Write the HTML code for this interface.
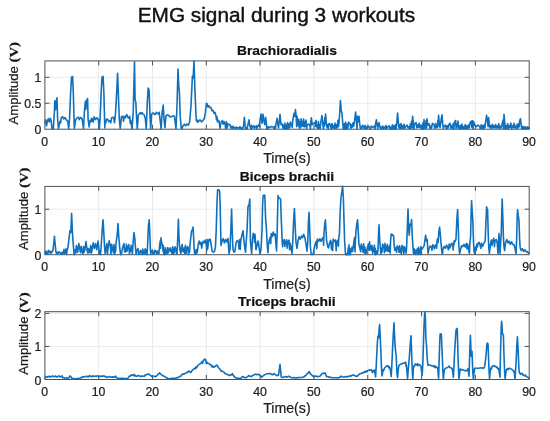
<!DOCTYPE html>
<html lang="en"><head><meta charset="utf-8"><title>EMG signal during 3 workouts</title>
<style>
html,body{margin:0;padding:0;background:#fff;}
body{width:550px;height:421px;overflow:hidden;}
svg{display:block;}
.sans{font-family:"Liberation Sans",sans-serif;}
.serif{font-family:"Liberation Serif",serif;}
</style></head><body>
<svg width="550" height="421" viewBox="0 0 550 421">
<rect width="550" height="421" fill="#ffffff"/>
<text transform="translate(276.40,22.40) scale(1.067,1)" font-size="19.5" text-anchor="middle" fill="#111111" class="sans" stroke="#111111" stroke-width="0.4">EMG signal during 3 workouts</text>
<line x1="98.71" y1="60.9" x2="98.71" y2="129.2" stroke="#e9e9e9" stroke-width="0.9"/>
<line x1="152.52" y1="60.9" x2="152.52" y2="129.2" stroke="#e9e9e9" stroke-width="0.9"/>
<line x1="206.33" y1="60.9" x2="206.33" y2="129.2" stroke="#e9e9e9" stroke-width="0.9"/>
<line x1="260.14" y1="60.9" x2="260.14" y2="129.2" stroke="#e9e9e9" stroke-width="0.9"/>
<line x1="313.96" y1="60.9" x2="313.96" y2="129.2" stroke="#e9e9e9" stroke-width="0.9"/>
<line x1="367.77" y1="60.9" x2="367.77" y2="129.2" stroke="#e9e9e9" stroke-width="0.9"/>
<line x1="421.58" y1="60.9" x2="421.58" y2="129.2" stroke="#e9e9e9" stroke-width="0.9"/>
<line x1="475.39" y1="60.9" x2="475.39" y2="129.2" stroke="#e9e9e9" stroke-width="0.9"/>
<line x1="44.9" y1="103.25" x2="529.2" y2="103.25" stroke="#e9e9e9" stroke-width="0.9"/>
<line x1="44.9" y1="77.30" x2="529.2" y2="77.30" stroke="#e9e9e9" stroke-width="0.9"/>
<rect x="44.9" y="60.9" width="484.30000000000007" height="68.29999999999998" fill="none" stroke="#505050" stroke-width="1.0"/>
<text transform="translate(44.75,145.70) scale(1.01,1)" font-size="12.2" text-anchor="middle" fill="#1c1c1c" class="sans" stroke="#1c1c1c" stroke-width="0.22">0</text>
<line x1="98.71" y1="129.2" x2="98.71" y2="124.69999999999999" stroke="#505050" stroke-width="1"/>
<line x1="98.71" y1="60.9" x2="98.71" y2="65.4" stroke="#505050" stroke-width="1"/>
<text transform="translate(98.56,145.70) scale(1.01,1)" font-size="12.2" text-anchor="middle" fill="#1c1c1c" class="sans" stroke="#1c1c1c" stroke-width="0.22">10</text>
<line x1="152.52" y1="129.2" x2="152.52" y2="124.69999999999999" stroke="#505050" stroke-width="1"/>
<line x1="152.52" y1="60.9" x2="152.52" y2="65.4" stroke="#505050" stroke-width="1"/>
<text transform="translate(152.37,145.70) scale(1.01,1)" font-size="12.2" text-anchor="middle" fill="#1c1c1c" class="sans" stroke="#1c1c1c" stroke-width="0.22">20</text>
<line x1="206.33" y1="129.2" x2="206.33" y2="124.69999999999999" stroke="#505050" stroke-width="1"/>
<line x1="206.33" y1="60.9" x2="206.33" y2="65.4" stroke="#505050" stroke-width="1"/>
<text transform="translate(206.18,145.70) scale(1.01,1)" font-size="12.2" text-anchor="middle" fill="#1c1c1c" class="sans" stroke="#1c1c1c" stroke-width="0.22">30</text>
<line x1="260.14" y1="129.2" x2="260.14" y2="124.69999999999999" stroke="#505050" stroke-width="1"/>
<line x1="260.14" y1="60.9" x2="260.14" y2="65.4" stroke="#505050" stroke-width="1"/>
<text transform="translate(259.99,145.70) scale(1.01,1)" font-size="12.2" text-anchor="middle" fill="#1c1c1c" class="sans" stroke="#1c1c1c" stroke-width="0.22">40</text>
<line x1="313.96" y1="129.2" x2="313.96" y2="124.69999999999999" stroke="#505050" stroke-width="1"/>
<line x1="313.96" y1="60.9" x2="313.96" y2="65.4" stroke="#505050" stroke-width="1"/>
<text transform="translate(313.81,145.70) scale(1.01,1)" font-size="12.2" text-anchor="middle" fill="#1c1c1c" class="sans" stroke="#1c1c1c" stroke-width="0.22">50</text>
<line x1="367.77" y1="129.2" x2="367.77" y2="124.69999999999999" stroke="#505050" stroke-width="1"/>
<line x1="367.77" y1="60.9" x2="367.77" y2="65.4" stroke="#505050" stroke-width="1"/>
<text transform="translate(367.62,145.70) scale(1.01,1)" font-size="12.2" text-anchor="middle" fill="#1c1c1c" class="sans" stroke="#1c1c1c" stroke-width="0.22">60</text>
<line x1="421.58" y1="129.2" x2="421.58" y2="124.69999999999999" stroke="#505050" stroke-width="1"/>
<line x1="421.58" y1="60.9" x2="421.58" y2="65.4" stroke="#505050" stroke-width="1"/>
<text transform="translate(421.43,145.70) scale(1.01,1)" font-size="12.2" text-anchor="middle" fill="#1c1c1c" class="sans" stroke="#1c1c1c" stroke-width="0.22">70</text>
<line x1="475.39" y1="129.2" x2="475.39" y2="124.69999999999999" stroke="#505050" stroke-width="1"/>
<line x1="475.39" y1="60.9" x2="475.39" y2="65.4" stroke="#505050" stroke-width="1"/>
<text transform="translate(475.24,145.70) scale(1.01,1)" font-size="12.2" text-anchor="middle" fill="#1c1c1c" class="sans" stroke="#1c1c1c" stroke-width="0.22">80</text>
<text transform="translate(529.05,145.70) scale(1.01,1)" font-size="12.2" text-anchor="middle" fill="#1c1c1c" class="sans" stroke="#1c1c1c" stroke-width="0.22">90</text>
<text transform="translate(41.30,134.20) scale(1.01,1)" font-size="12.2" text-anchor="end" fill="#1c1c1c" class="sans" stroke="#1c1c1c" stroke-width="0.22">0</text>
<line x1="44.9" y1="103.25" x2="49.4" y2="103.25" stroke="#505050" stroke-width="1"/>
<line x1="529.2" y1="103.25" x2="524.7" y2="103.25" stroke="#505050" stroke-width="1"/>
<text transform="translate(41.30,108.25) scale(1.01,1)" font-size="12.2" text-anchor="end" fill="#1c1c1c" class="sans" stroke="#1c1c1c" stroke-width="0.22">0.5</text>
<line x1="44.9" y1="77.30" x2="49.4" y2="77.30" stroke="#505050" stroke-width="1"/>
<line x1="529.2" y1="77.30" x2="524.7" y2="77.30" stroke="#505050" stroke-width="1"/>
<text transform="translate(41.30,82.30) scale(1.01,1)" font-size="12.2" text-anchor="end" fill="#1c1c1c" class="sans" stroke="#1c1c1c" stroke-width="0.22">1</text>
<path d="M45.0,122.7 L45.6,119.8 L46.5,125.8 L47.4,120.8 L48.3,118.7 L49.3,121.9 L50.2,118.2 L51.1,120.4 L52.0,128.5 L53.3,128.6 L54.4,112.0 L54.8,100.9 L55.6,109.8 L56.1,102.4 L57.0,97.9 L57.6,118.5 L58.5,128.6 L60.0,121.3 L60.6,122.9 L61.3,117.6 L62.6,116.7 L63.7,119.0 L65.0,117.5 L66.3,119.9 L67.8,121.3 L68.7,129.0 L69.6,117.4 L70.6,93.2 L71.5,77.1 L72.0,83.5 L72.6,76.6 L73.3,92.7 L74.3,128.5 L75.6,119.8 L77.0,117.9 L78.5,117.1 L79.2,119.7 L79.8,118.4 L81.1,117.5 L82.2,119.5 L83.5,128.7 L84.4,111.8 L85.4,101.2 L85.9,109.3 L86.7,100.3 L87.6,98.6 L88.1,119.2 L89.1,127.0 L90.0,120.6 L90.7,121.8 L91.5,118.3 L92.1,121.4 L92.8,118.9 L93.4,121.9 L94.1,116.8 L95.6,119.5 L97.0,117.8 L98.3,119.4 L99.3,128.9 L100.2,116.9 L101.1,93.4 L102.0,77.0 L102.6,83.7 L103.1,76.3 L103.9,93.2 L104.8,127.9 L105.0,122.1 L105.8,122.9 L106.5,119.0 L107.9,119.5 L108.8,121.7 L109.8,120.7 L110.7,122.8 L111.7,117.7 L113.6,117.3 L114.5,122.6 L115.5,113.4 L116.4,97.6 L117.6,73.2 L118.7,103.9 L119.3,119.1 L120.2,128.4 L121.5,116.6 L123.1,116.3 L123.5,121.3 L124.0,117.6 L125.0,116.4 L125.4,117.9 L125.9,115.8 L126.9,114.7 L127.8,117.1 L128.8,118.1 L129.7,116.3 L130.2,123.1 L130.7,120.3 L132.0,128.8 L133.2,113.1 L133.9,84.9 L134.5,61.8 L135.1,99.6 L135.8,102.0 L136.6,118.5 L137.3,128.6 L138.3,114.8 L139.2,114.0 L140.2,112.7 L141.1,113.9 L142.1,112.6 L143.0,114.1 L144.0,114.6 L145.3,118.6 L146.3,128.6 L147.2,104.0 L148.2,88.1 L149.1,90.4 L149.9,113.1 L150.7,128.7 L151.6,114.5 L152.6,113.0 L153.5,113.1 L154.5,114.4 L155.4,114.4 L156.4,112.3 L157.3,113.2 L158.3,113.8 L159.2,112.3 L160.2,120.5 L161.1,128.7 L162.1,112.7 L163.2,105.1 L164.0,119.0 L164.9,127.7 L165.9,116.1 L167.2,114.8 L168.7,115.2 L170.1,116.9 L171.6,116.7 L173.1,115.7 L174.4,116.2 L176.0,128.7 L177.0,106.1 L178.0,69.1 L178.8,85.9 L179.4,92.1 L180.2,116.1 L181.2,128.0 L182.0,128.8 L183.0,125.8 L184.4,124.2 L185.6,125.9 L187.0,124.0 L188.4,125.2 L189.6,122.0 L191.0,105.8 L192.4,76.2 L193.2,78.0 L194.0,61.1 L194.8,86.4 L196.0,115.8 L196.5,121.3 L197.0,119.8 L197.7,122.2 L198.4,121.4 L200.0,119.9 L201.6,121.8 L203.2,120.1 L204.4,118.3 L205.4,112.4 L206.4,103.3 L207.2,103.9 L208.0,107.1 L209.0,105.8 L210.0,107.7 L211.0,107.6 L212.0,110.7 L213.0,110.3 L214.0,113.2 L215.0,112.4 L216.0,115.8 L216.5,119.6 L217.0,116.8 L217.5,121.9 L218.0,120.1 L219.0,120.8 L220.0,128.3 L221.0,122.4 L222.4,120.6 L223.2,124.3 L224.0,121.6 L225.0,123.7 L225.7,128.6 L226.4,121.9 L227.2,127.9 L228.0,123.9 L230.0,124.7 L230.8,127.9 L231.6,126.5 L232.3,128.7 L233.0,126.2 L234.4,127.9 L235.2,128.5 L236.0,127.0 L237.0,128.4 L238.0,127.6 L239.0,128.5 L240.0,126.6 L241.0,129.0 L242.0,127.6 L242.8,129.0 L243.6,125.9 L244.4,117.3 L245.2,126.4 L245.8,129.1 L246.4,127.4 L247.2,128.7 L248.0,124.1 L249.0,119.9 L249.8,126.5 L250.4,126.8 L251.0,129.1 L251.6,125.2 L252.2,128.2 L252.8,127.0 L254.0,125.7 L254.6,128.3 L255.2,127.4 L256.4,125.9 L257.0,128.9 L257.6,126.2 L259.0,124.4 L259.5,126.8 L260.0,119.9 L261.0,114.1 L262.0,123.3 L263.0,114.4 L264.0,121.5 L264.8,124.6 L265.6,117.3 L266.4,123.7 L266.8,129.0 L267.2,126.8 L267.8,128.7 L268.4,126.6 L270.0,127.6 L271.6,126.4 L273.2,127.0 L274.0,128.8 L274.8,126.2 L275.4,128.7 L276.0,124.0 L277.0,118.3 L278.0,125.1 L278.5,127.9 L279.0,123.3 L280.0,114.4 L281.0,124.7 L282.4,124.1 L283.0,128.4 L283.6,125.3 L284.3,128.3 L285.0,123.1 L285.7,129.1 L286.4,125.0 L287.0,128.8 L287.6,122.5 L288.3,128.5 L289.0,124.0 L289.7,127.8 L290.4,122.1 L291.6,124.8 L292.2,127.4 L292.8,119.9 L294.0,113.3 L294.8,116.4 L295.4,109.6 L296.2,115.8 L296.6,126.7 L297.0,116.4 L297.8,121.6 L298.3,125.7 L298.8,119.3 L299.4,128.1 L300.0,121.8 L300.6,127.8 L301.2,118.8 L301.8,125.9 L302.4,121.6 L303.0,126.2 L303.6,119.0 L304.2,127.0 L304.8,121.9 L305.4,126.2 L306.0,120.1 L306.6,128.4 L307.2,125.0 L308.6,124.1 L310.0,125.7 L310.4,128.9 L310.8,122.4 L311.4,117.8 L312.2,124.8 L313.6,123.3 L315.0,122.4 L315.5,126.5 L316.0,120.2 L316.6,127.0 L317.2,124.7 L317.8,128.7 L318.4,121.6 L319.0,128.5 L319.6,124.5 L320.2,128.5 L320.8,122.4 L322.0,115.5 L322.8,123.6 L323.4,128.6 L324.0,122.0 L324.4,126.3 L324.8,117.6 L325.2,123.8 L325.6,114.1 L326.4,124.0 L327.0,127.4 L327.6,124.7 L328.3,128.9 L329.0,123.5 L330.4,124.6 L331.2,129.1 L332.0,123.6 L332.8,128.0 L333.6,125.6 L334.3,128.2 L335.0,123.1 L335.7,128.5 L336.4,124.7 L337.2,127.9 L338.0,120.2 L338.5,126.7 L339.0,122.7 L339.8,112.0 L340.4,100.5 L341.2,110.4 L342.0,113.3 L342.8,124.2 L343.4,128.8 L343.9,129.0 L344.4,123.7 L345.0,129.2 L345.6,122.3 L346.3,129.0 L347.0,124.2 L347.7,128.7 L348.4,122.3 L349.8,124.0 L350.0,123.4 L350.8,128.7 L351.6,124.9 L352.3,127.2 L353.0,122.8 L353.7,126.1 L354.4,121.9 L355.6,112.1 L356.4,120.1 L357.0,128.9 L357.6,116.2 L358.4,121.8 L359.0,116.2 L359.8,125.1 L360.4,128.2 L361.0,126.5 L361.7,128.7 L362.4,125.3 L363.6,126.5 L364.3,128.9 L365.0,125.4 L365.7,128.3 L366.4,126.9 L367.2,128.3 L368.0,125.8 L369.6,127.5 L370.4,129.2 L371.2,126.1 L372.8,127.3 L374.4,126.0 L375.0,128.9 L375.6,123.5 L376.4,119.7 L377.2,126.0 L377.8,128.4 L378.4,124.1 L379.0,122.6 L379.8,126.3 L380.5,128.8 L381.2,127.1 L382.0,128.9 L382.8,126.1 L383.6,128.9 L384.4,127.0 L385.2,128.4 L386.0,125.5 L386.8,128.9 L387.6,126.9 L389.2,125.8 L390.0,129.2 L390.8,127.2 L391.6,129.1 L392.4,124.7 L393.2,129.2 L394.0,125.7 L394.8,129.1 L395.6,124.6 L396.2,129.1 L396.8,122.3 L397.6,113.1 L398.4,122.6 L399.0,128.1 L399.6,124.7 L400.3,128.2 L401.0,123.6 L401.7,128.6 L402.4,125.6 L403.2,128.4 L404.0,124.3 L404.8,128.4 L405.6,126.5 L407.2,125.2 L408.0,128.0 L408.8,126.8 L409.6,128.7 L410.4,123.9 L411.0,128.4 L411.6,121.1 L412.1,127.7 L412.6,116.3 L413.4,122.7 L413.9,129.2 L414.4,124.8 L416.0,122.5 L416.8,127.7 L417.6,124.9 L418.4,127.3 L419.2,123.2 L420.0,127.4 L420.8,125.4 L421.4,129.0 L422.0,127.9 L422.5,128.7 L423.0,122.8 L423.5,128.7 L424.0,119.6 L424.5,128.7 L425.0,124.1 L425.5,127.2 L426.0,120.9 L426.5,128.4 L427.0,118.9 L427.8,125.2 L429.2,123.8 L430.0,128.7 L430.8,126.0 L431.6,128.1 L432.4,123.2 L434.0,124.8 L434.8,128.3 L435.6,123.6 L436.3,127.7 L437.0,125.3 L437.4,127.5 L437.8,120.2 L438.2,126.0 L438.6,115.2 L439.4,125.2 L440.0,127.4 L440.6,123.9 L441.4,118.2 L442.0,114.9 L442.8,124.6 L443.4,128.5 L444.0,126.4 L445.6,125.2 L446.4,128.9 L447.2,125.8 L448.0,128.2 L448.8,124.8 L450.0,123.3 L450.8,128.2 L451.6,125.9 L452.4,128.2 L453.2,123.7 L453.8,128.7 L454.4,122.4 L455.6,120.5 L456.1,128.6 L456.6,124.4 L457.3,126.7 L458.0,121.0 L458.5,128.3 L459.0,125.5 L459.7,128.9 L460.4,125.6 L461.2,128.9 L462.0,124.0 L462.8,128.8 L463.6,126.8 L464.4,128.7 L465.2,124.6 L466.0,128.6 L466.8,125.7 L467.6,128.8 L468.4,125.0 L469.2,127.9 L470.0,122.8 L471.2,121.2 L471.8,127.3 L472.4,120.6 L473.0,128.9 L473.6,121.5 L474.8,125.2 L476.4,126.7 L478.0,125.2 L479.6,126.5 L480.4,128.8 L481.2,124.7 L482.0,128.3 L482.8,125.6 L483.6,129.2 L484.4,124.9 L485.0,127.5 L485.6,121.9 L486.6,115.4 L487.6,122.5 L488.1,126.7 L488.6,117.6 L489.4,125.1 L490.1,127.9 L490.8,125.6 L491.6,128.5 L492.4,124.4 L493.2,127.8 L494.0,125.7 L494.8,128.0 L495.6,124.6 L496.4,128.0 L497.2,125.7 L498.0,127.9 L498.8,123.9 L499.6,128.5 L500.4,126.3 L501.2,128.0 L502.0,124.4 L503.2,119.8 L503.6,129.0 L504.0,114.4 L504.8,123.7 L505.4,129.1 L506.0,125.9 L506.8,128.3 L507.6,123.6 L508.4,129.2 L509.2,125.8 L510.0,127.4 L510.8,123.0 L511.6,128.8 L512.4,125.8 L513.2,127.7 L514.0,123.3 L514.8,127.9 L515.6,126.0 L516.4,128.5 L517.2,124.1 L518.0,128.0 L518.8,123.7 L519.2,126.6 L519.6,121.3 L520.4,118.7 L521.2,124.6 L521.8,128.9 L522.4,126.6 L523.2,128.6 L524.0,126.5 L524.8,129.1 L525.6,127.2 L526.4,128.7 L527.2,126.8 L528.0,129.1 L528.8,127.3 L529.2,128.4" fill="none" stroke="#0f71be" stroke-width="1.6" stroke-linejoin="round" stroke-linecap="round"/>
<text transform="translate(286.90,163.00) scale(0.99,1)" font-size="14.3" text-anchor="middle" fill="#1c1c1c" class="sans" stroke="#1c1c1c" stroke-width="0.22">Time(s)</text>
<text transform="translate(286.90,55.20) scale(1.065,1)" font-size="13" text-anchor="middle" fill="#111111" class="sans" stroke="#111111" stroke-width="0.22" font-weight="bold">Brachioradialis</text>
<text transform="translate(17.7,124.4) rotate(-90) scale(0.955,1)" font-size="13.7" text-anchor="start" fill="#1c1c1c" stroke="#1c1c1c" stroke-width="0.22" class="sans">Amplitude</text>
<text transform="translate(17.9,62.5) rotate(-90) scale(1.12,1)" font-size="13.2" font-weight="bold" text-anchor="start" fill="#111111" stroke="#111111" stroke-width="0.2" class="serif">(V)</text>
<line x1="98.71" y1="186.4" x2="98.71" y2="254.7" stroke="#e9e9e9" stroke-width="0.9"/>
<line x1="152.52" y1="186.4" x2="152.52" y2="254.7" stroke="#e9e9e9" stroke-width="0.9"/>
<line x1="206.33" y1="186.4" x2="206.33" y2="254.7" stroke="#e9e9e9" stroke-width="0.9"/>
<line x1="260.14" y1="186.4" x2="260.14" y2="254.7" stroke="#e9e9e9" stroke-width="0.9"/>
<line x1="313.96" y1="186.4" x2="313.96" y2="254.7" stroke="#e9e9e9" stroke-width="0.9"/>
<line x1="367.77" y1="186.4" x2="367.77" y2="254.7" stroke="#e9e9e9" stroke-width="0.9"/>
<line x1="421.58" y1="186.4" x2="421.58" y2="254.7" stroke="#e9e9e9" stroke-width="0.9"/>
<line x1="475.39" y1="186.4" x2="475.39" y2="254.7" stroke="#e9e9e9" stroke-width="0.9"/>
<line x1="44.9" y1="209.20" x2="529.2" y2="209.20" stroke="#e9e9e9" stroke-width="0.9"/>
<rect x="44.9" y="186.4" width="484.30000000000007" height="68.29999999999998" fill="none" stroke="#505050" stroke-width="1.0"/>
<text transform="translate(44.75,271.20) scale(1.01,1)" font-size="12.2" text-anchor="middle" fill="#1c1c1c" class="sans" stroke="#1c1c1c" stroke-width="0.22">0</text>
<line x1="98.71" y1="254.7" x2="98.71" y2="250.2" stroke="#505050" stroke-width="1"/>
<line x1="98.71" y1="186.4" x2="98.71" y2="190.9" stroke="#505050" stroke-width="1"/>
<text transform="translate(98.56,271.20) scale(1.01,1)" font-size="12.2" text-anchor="middle" fill="#1c1c1c" class="sans" stroke="#1c1c1c" stroke-width="0.22">10</text>
<line x1="152.52" y1="254.7" x2="152.52" y2="250.2" stroke="#505050" stroke-width="1"/>
<line x1="152.52" y1="186.4" x2="152.52" y2="190.9" stroke="#505050" stroke-width="1"/>
<text transform="translate(152.37,271.20) scale(1.01,1)" font-size="12.2" text-anchor="middle" fill="#1c1c1c" class="sans" stroke="#1c1c1c" stroke-width="0.22">20</text>
<line x1="206.33" y1="254.7" x2="206.33" y2="250.2" stroke="#505050" stroke-width="1"/>
<line x1="206.33" y1="186.4" x2="206.33" y2="190.9" stroke="#505050" stroke-width="1"/>
<text transform="translate(206.18,271.20) scale(1.01,1)" font-size="12.2" text-anchor="middle" fill="#1c1c1c" class="sans" stroke="#1c1c1c" stroke-width="0.22">30</text>
<line x1="260.14" y1="254.7" x2="260.14" y2="250.2" stroke="#505050" stroke-width="1"/>
<line x1="260.14" y1="186.4" x2="260.14" y2="190.9" stroke="#505050" stroke-width="1"/>
<text transform="translate(259.99,271.20) scale(1.01,1)" font-size="12.2" text-anchor="middle" fill="#1c1c1c" class="sans" stroke="#1c1c1c" stroke-width="0.22">40</text>
<line x1="313.96" y1="254.7" x2="313.96" y2="250.2" stroke="#505050" stroke-width="1"/>
<line x1="313.96" y1="186.4" x2="313.96" y2="190.9" stroke="#505050" stroke-width="1"/>
<text transform="translate(313.81,271.20) scale(1.01,1)" font-size="12.2" text-anchor="middle" fill="#1c1c1c" class="sans" stroke="#1c1c1c" stroke-width="0.22">50</text>
<line x1="367.77" y1="254.7" x2="367.77" y2="250.2" stroke="#505050" stroke-width="1"/>
<line x1="367.77" y1="186.4" x2="367.77" y2="190.9" stroke="#505050" stroke-width="1"/>
<text transform="translate(367.62,271.20) scale(1.01,1)" font-size="12.2" text-anchor="middle" fill="#1c1c1c" class="sans" stroke="#1c1c1c" stroke-width="0.22">60</text>
<line x1="421.58" y1="254.7" x2="421.58" y2="250.2" stroke="#505050" stroke-width="1"/>
<line x1="421.58" y1="186.4" x2="421.58" y2="190.9" stroke="#505050" stroke-width="1"/>
<text transform="translate(421.43,271.20) scale(1.01,1)" font-size="12.2" text-anchor="middle" fill="#1c1c1c" class="sans" stroke="#1c1c1c" stroke-width="0.22">70</text>
<line x1="475.39" y1="254.7" x2="475.39" y2="250.2" stroke="#505050" stroke-width="1"/>
<line x1="475.39" y1="186.4" x2="475.39" y2="190.9" stroke="#505050" stroke-width="1"/>
<text transform="translate(475.24,271.20) scale(1.01,1)" font-size="12.2" text-anchor="middle" fill="#1c1c1c" class="sans" stroke="#1c1c1c" stroke-width="0.22">80</text>
<text transform="translate(529.05,271.20) scale(1.01,1)" font-size="12.2" text-anchor="middle" fill="#1c1c1c" class="sans" stroke="#1c1c1c" stroke-width="0.22">90</text>
<text transform="translate(41.30,259.70) scale(1.01,1)" font-size="12.2" text-anchor="end" fill="#1c1c1c" class="sans" stroke="#1c1c1c" stroke-width="0.22">0</text>
<line x1="44.9" y1="209.20" x2="49.4" y2="209.20" stroke="#505050" stroke-width="1"/>
<line x1="529.2" y1="209.20" x2="524.7" y2="209.20" stroke="#505050" stroke-width="1"/>
<text transform="translate(41.30,214.20) scale(1.01,1)" font-size="12.2" text-anchor="end" fill="#1c1c1c" class="sans" stroke="#1c1c1c" stroke-width="0.22">1</text>
<path d="M45.0,252.0 L45.5,254.0 L46.0,251.1 L46.6,254.0 L47.2,252.3 L47.8,254.0 L48.4,250.4 L49.6,251.5 L50.2,253.2 L50.8,251.4 L51.4,252.8 L52.0,252.0 L53.0,250.2 L53.8,243.1 L54.4,236.2 L55.0,242.4 L55.8,251.0 L56.5,253.7 L57.2,252.3 L58.0,254.0 L58.8,251.7 L60.4,253.0 L61.2,254.2 L62.0,252.2 L62.6,253.8 L63.2,253.2 L64.0,249.4 L64.6,253.3 L65.2,251.1 L65.6,252.9 L66.0,248.9 L66.5,254.4 L67.0,250.9 L68.0,247.4 L69.0,238.4 L70.0,230.7 L70.8,232.5 L71.6,213.4 L72.4,231.6 L73.0,240.9 L74.0,253.5 L74.6,254.6 L75.2,249.7 L75.8,252.8 L76.4,245.6 L77.6,252.3 L78.8,243.5 L80.0,250.7 L80.6,252.6 L81.2,246.4 L82.4,252.2 L83.0,254.0 L83.6,246.6 L84.2,252.2 L84.8,250.2 L86.0,241.5 L87.2,250.9 L87.8,253.1 L88.4,248.6 L89.6,252.8 L90.8,245.5 L91.4,253.0 L92.0,250.4 L93.2,242.8 L94.4,248.5 L95.6,243.6 L96.8,249.7 L98.0,241.1 L99.0,249.3 L99.5,254.2 L100.0,252.9 L100.5,254.4 L101.0,248.7 L102.0,233.1 L103.0,219.8 L103.8,232.9 L104.6,247.6 L105.1,253.5 L105.6,250.4 L106.8,243.6 L107.4,254.3 L108.0,248.4 L109.2,240.7 L110.4,246.6 L111.0,254.4 L111.6,244.2 L112.8,249.5 L113.4,252.7 L114.0,244.5 L114.6,254.5 L115.2,247.7 L115.6,251.7 L116.0,243.4 L116.6,239.1 L117.4,232.8 L118.0,223.6 L118.8,237.3 L119.6,246.5 L120.4,253.1 L121.0,254.6 L121.6,253.1 L122.8,246.7 L124.0,243.6 L124.6,252.0 L125.2,248.5 L125.8,251.7 L126.4,244.4 L127.0,251.2 L127.6,247.8 L128.8,244.6 L129.4,253.6 L130.0,249.1 L130.6,251.4 L131.2,245.4 L132.4,253.9 L133.2,241.2 L134.0,232.6 L134.8,238.4 L135.6,249.2 L136.1,254.2 L136.6,251.2 L138.0,248.5 L138.6,254.3 L139.2,252.5 L139.8,254.2 L140.4,250.4 L141.6,251.2 L142.2,254.5 L142.8,249.0 L143.4,254.2 L144.0,251.4 L144.6,253.9 L145.2,248.9 L145.8,253.7 L146.4,250.1 L147.0,254.7 L147.6,245.5 L148.4,226.3 L149.2,219.9 L149.8,233.3 L150.4,249.1 L150.8,254.5 L151.2,251.7 L152.4,250.0 L153.0,253.9 L153.6,251.7 L154.2,253.9 L154.8,250.3 L156.0,251.5 L156.6,253.5 L157.2,250.8 L157.8,253.1 L158.4,251.9 L158.9,253.6 L159.4,247.5 L160.2,240.8 L160.6,248.1 L161.0,237.9 L161.8,243.5 L162.6,244.9 L163.0,251.1 L163.4,245.6 L163.8,254.2 L164.2,250.4 L164.8,254.6 L165.4,247.7 L166.0,253.3 L166.6,250.3 L167.2,253.3 L167.8,247.6 L168.4,252.8 L169.0,250.4 L170.2,247.9 L170.8,251.6 L171.4,249.8 L172.0,253.8 L172.6,246.7 L173.2,254.0 L173.8,248.4 L174.4,252.8 L175.0,246.8 L176.2,249.7 L176.6,254.0 L177.0,253.6 L177.8,236.9 L178.4,219.2 L179.0,237.2 L179.8,249.4 L180.8,253.6 L181.6,246.6 L182.2,244.6 L182.6,251.3 L183.0,249.0 L183.6,251.9 L184.2,247.7 L184.8,253.5 L185.4,245.4 L186.0,253.8 L186.6,248.5 L187.8,246.5 L188.4,254.4 L189.0,248.3 L189.5,252.5 L190.0,245.2 L190.8,237.5 L191.6,230.9 L192.4,230.1 L193.0,227.1 L193.6,237.4 L194.2,249.5 L194.7,253.8 L195.2,250.2 L195.8,254.3 L196.4,249.6 L196.9,253.0 L197.4,251.5 L198.2,244.6 L199.2,241.0 L200.2,244.4 L201.2,242.4 L201.7,248.2 L202.2,244.9 L203.2,241.3 L204.2,242.8 L205.2,240.1 L206.2,244.2 L206.7,250.8 L207.2,239.6 L207.7,248.9 L208.2,243.3 L209.2,239.2 L210.2,239.4 L211.2,244.5 L212.0,250.7 L213.2,252.3 L214.4,251.6 L215.4,247.4 L216.2,231.1 L217.0,202.8 L217.6,189.9 L218.6,189.8 L219.6,191.1 L220.2,206.6 L221.0,245.4 L222.0,241.0 L223.2,238.6 L224.4,243.0 L225.6,239.4 L226.8,242.0 L228.0,238.4 L229.0,253.5 L230.0,249.2 L230.8,230.5 L231.6,209.0 L232.2,230.9 L233.0,249.5 L234.0,252.3 L235.0,251.0 L236.0,242.9 L237.2,240.5 L238.4,241.8 L239.0,248.9 L239.6,239.5 L240.2,249.4 L240.8,240.4 L242.0,234.6 L243.0,230.7 L244.0,241.2 L245.0,249.2 L245.5,252.3 L246.0,244.5 L247.0,231.3 L248.0,206.5 L249.0,205.0 L249.8,199.1 L250.4,240.6 L251.6,253.4 L252.4,240.9 L253.2,233.3 L254.2,235.0 L254.6,242.5 L255.0,234.2 L256.0,249.6 L257.0,245.4 L258.0,241.0 L259.0,246.7 L260.0,253.7 L261.0,249.5 L262.0,230.8 L262.6,204.8 L263.2,195.5 L264.0,195.1 L264.8,195.2 L265.4,213.5 L265.8,221.6 L266.4,227.7 L267.0,241.3 L267.6,249.1 L268.0,252.8 L268.4,244.9 L269.2,240.6 L270.2,237.2 L270.7,243.7 L271.2,233.6 L272.2,236.6 L273.2,232.1 L274.2,235.4 L275.2,234.0 L276.0,245.2 L276.6,251.0 L277.2,230.5 L278.0,195.5 L278.8,198.4 L279.6,198.1 L280.6,199.0 L281.2,217.1 L282.0,236.6 L282.5,246.8 L283.0,242.4 L284.2,239.5 L284.8,246.5 L285.4,243.1 L286.6,239.7 L287.2,248.2 L287.8,242.0 L289.0,240.1 L289.6,249.8 L290.2,243.4 L291.2,248.6 L292.0,253.7 L292.8,240.9 L293.6,220.6 L294.4,208.6 L295.2,227.0 L296.0,242.4 L297.0,248.4 L298.0,241.2 L299.0,236.8 L300.2,239.1 L301.4,236.0 L302.6,237.7 L303.6,234.3 L304.8,237.4 L305.8,242.9 L307.0,251.1 L307.8,241.5 L308.4,223.2 L309.0,212.3 L309.6,227.3 L310.4,246.9 L311.2,254.5 L312.0,254.4 L312.8,254.2 L313.3,254.4 L313.8,250.2 L315.0,244.7 L316.2,241.2 L316.8,248.7 L317.4,239.1 L318.6,241.3 L319.8,238.8 L321.0,241.3 L322.2,238.8 L323.2,237.3 L323.6,245.2 L324.0,232.5 L324.8,223.6 L325.4,219.9 L326.0,230.5 L326.6,240.7 L327.6,246.1 L328.4,248.0 L329.6,242.6 L330.8,240.4 L331.4,249.1 L332.0,242.9 L332.6,250.7 L333.2,239.0 L334.4,241.6 L335.6,240.1 L336.2,250.6 L336.8,241.9 L338.0,240.1 L338.4,246.1 L338.8,237.2 L339.4,234.1 L340.2,210.7 L341.0,197.3 L341.8,192.8 L342.6,186.4 L343.4,198.7 L344.0,220.5 L344.6,240.6 L345.2,250.3 L345.6,254.7 L346.0,254.5 L346.6,254.7 L347.2,253.5 L347.7,254.6 L348.2,247.9 L348.6,254.6 L349.0,244.7 L349.4,254.4 L349.8,248.3 L350.3,254.6 L350.8,249.4 L351.4,251.7 L352.0,247.1 L352.6,251.5 L353.2,247.5 L354.0,241.0 L354.6,237.5 L355.0,252.0 L355.4,240.9 L356.0,230.7 L356.8,224.1 L357.6,219.9 L358.2,231.3 L359.0,245.0 L360.0,248.5 L360.6,251.6 L361.2,244.1 L362.4,248.3 L363.0,252.1 L363.6,243.7 L364.2,252.7 L364.8,247.1 L365.2,254.0 L365.6,249.6 L366.2,253.1 L367.2,248.5 L368.4,244.0 L369.0,250.3 L369.6,241.9 L370.2,250.0 L370.8,246.0 L371.4,249.9 L372.0,245.2 L372.6,253.2 L373.2,247.8 L373.8,251.5 L374.4,245.2 L374.9,254.1 L375.4,248.5 L375.8,254.6 L376.2,253.5 L377.2,250.7 L377.6,253.1 L378.0,249.4 L378.6,232.8 L379.0,224.8 L379.6,237.6 L380.4,248.8 L380.9,253.8 L381.4,248.5 L382.0,252.2 L382.6,244.1 L383.8,246.1 L384.4,252.6 L385.0,243.4 L385.6,251.0 L386.2,246.3 L386.8,250.6 L387.4,244.2 L388.0,251.5 L388.6,247.3 L389.2,251.4 L389.8,245.0 L390.2,253.2 L390.6,240.8 L391.2,234.1 L392.0,234.3 L392.8,235.5 L393.6,235.5 L394.2,245.5 L394.8,250.5 L396.0,247.8 L396.6,252.3 L397.2,245.9 L398.4,247.7 L399.0,252.1 L399.6,245.8 L400.2,252.5 L400.8,248.2 L401.4,254.0 L402.0,245.4 L403.2,248.1 L403.8,253.7 L404.4,246.5 L405.0,251.1 L405.6,248.6 L406.1,253.1 L406.6,247.6 L407.2,231.2 L408.0,209.0 L408.6,226.5 L409.2,235.1 L410.0,224.3 L410.8,225.5 L411.6,219.5 L412.2,235.3 L413.0,247.5 L413.5,253.4 L414.0,248.6 L414.5,253.7 L415.0,249.7 L415.5,254.5 L416.0,253.4 L417.2,248.9 L417.8,254.6 L418.4,247.2 L419.0,253.1 L419.6,249.3 L420.2,254.4 L420.8,246.5 L422.0,249.2 L423.2,247.4 L424.2,245.5 L425.0,239.5 L425.6,235.2 L426.4,241.0 L427.2,239.4 L428.0,253.3 L429.0,248.6 L430.2,246.0 L431.4,247.6 L432.0,250.2 L432.6,244.8 L433.8,246.5 L434.4,248.8 L435.0,245.6 L436.2,244.6 L436.6,248.3 L437.0,241.1 L437.6,238.5 L438.0,242.7 L438.4,238.6 L439.0,230.7 L439.6,227.1 L440.4,235.3 L441.0,243.1 L442.0,253.1 L442.5,253.8 L443.0,248.6 L444.2,246.4 L445.4,248.4 L446.6,245.1 L447.8,247.5 L448.4,249.8 L449.0,245.5 L449.2,244.0 L449.8,247.9 L450.4,246.5 L451.6,243.3 L452.8,245.4 L453.2,250.0 L453.6,242.2 L454.0,244.6 L454.4,240.6 L455.2,241.4 L456.0,239.1 L456.8,220.6 L457.6,209.6 L458.2,224.8 L458.8,244.7 L459.6,253.8 L460.6,249.2 L461.6,245.7 L462.8,246.6 L464.0,244.4 L465.2,247.0 L466.4,243.5 L467.0,248.8 L467.6,244.1 L468.6,249.0 L469.4,253.5 L470.0,241.4 L470.6,236.8 L471.2,211.3 L471.6,200.9 L472.2,211.5 L472.8,220.5 L473.4,239.4 L474.0,250.7 L474.6,253.5 L475.6,247.0 L476.2,250.5 L476.8,244.4 L477.4,246.9 L478.0,243.2 L479.0,242.3 L480.2,245.6 L480.8,248.4 L481.4,243.4 L482.6,246.4 L483.8,243.4 L484.6,242.3 L485.2,240.7 L485.8,225.1 L486.6,206.9 L487.2,209.4 L487.6,209.6 L488.2,233.4 L488.8,247.6 L489.4,253.5 L490.4,244.7 L491.4,240.0 L492.0,245.4 L492.6,241.3 L493.8,238.3 L494.4,246.7 L495.0,240.8 L496.2,239.5 L497.2,242.8 L498.0,253.8 L498.6,240.5 L499.0,233.6 L499.6,244.5 L500.0,253.6 L500.6,243.2 L501.2,234.6 L501.8,210.9 L502.2,199.0 L502.8,217.1 L503.4,236.5 L504.0,246.7 L504.6,250.6 L505.6,242.5 L506.8,239.5 L508.0,242.9 L509.2,241.2 L510.4,244.4 L511.6,241.8 L512.8,244.4 L514.0,244.8 L515.0,248.3 L516.0,253.9 L516.6,240.4 L517.2,216.8 L517.6,209.8 L518.2,215.2 L519.0,220.5 L519.6,238.9 L520.2,248.0 L521.2,250.4 L522.4,248.6 L523.6,251.5 L524.8,249.8 L526.0,251.6 L527.2,251.6 L528.4,252.9 L529.2,252.6" fill="none" stroke="#0f71be" stroke-width="1.6" stroke-linejoin="round" stroke-linecap="round"/>
<text transform="translate(286.90,288.50) scale(0.99,1)" font-size="14.3" text-anchor="middle" fill="#1c1c1c" class="sans" stroke="#1c1c1c" stroke-width="0.22">Time(s)</text>
<text transform="translate(286.90,180.70) scale(1.065,1)" font-size="13" text-anchor="middle" fill="#111111" class="sans" stroke="#111111" stroke-width="0.22" font-weight="bold">Biceps brachii</text>
<text transform="translate(28.1,249.9) rotate(-90) scale(0.955,1)" font-size="13.7" text-anchor="start" fill="#1c1c1c" stroke="#1c1c1c" stroke-width="0.22" class="sans">Amplitude</text>
<text transform="translate(28.3,188.0) rotate(-90) scale(1.12,1)" font-size="13.2" font-weight="bold" text-anchor="start" fill="#111111" stroke="#111111" stroke-width="0.2" class="serif">(V)</text>
<line x1="98.71" y1="311.7" x2="98.71" y2="379.5" stroke="#e9e9e9" stroke-width="0.9"/>
<line x1="152.52" y1="311.7" x2="152.52" y2="379.5" stroke="#e9e9e9" stroke-width="0.9"/>
<line x1="206.33" y1="311.7" x2="206.33" y2="379.5" stroke="#e9e9e9" stroke-width="0.9"/>
<line x1="260.14" y1="311.7" x2="260.14" y2="379.5" stroke="#e9e9e9" stroke-width="0.9"/>
<line x1="313.96" y1="311.7" x2="313.96" y2="379.5" stroke="#e9e9e9" stroke-width="0.9"/>
<line x1="367.77" y1="311.7" x2="367.77" y2="379.5" stroke="#e9e9e9" stroke-width="0.9"/>
<line x1="421.58" y1="311.7" x2="421.58" y2="379.5" stroke="#e9e9e9" stroke-width="0.9"/>
<line x1="475.39" y1="311.7" x2="475.39" y2="379.5" stroke="#e9e9e9" stroke-width="0.9"/>
<line x1="44.9" y1="346.45" x2="529.2" y2="346.45" stroke="#e9e9e9" stroke-width="0.9"/>
<line x1="44.9" y1="313.40" x2="529.2" y2="313.40" stroke="#e9e9e9" stroke-width="0.9"/>
<rect x="44.9" y="311.7" width="484.30000000000007" height="67.80000000000001" fill="none" stroke="#505050" stroke-width="1.0"/>
<text transform="translate(44.75,396.00) scale(1.01,1)" font-size="12.2" text-anchor="middle" fill="#1c1c1c" class="sans" stroke="#1c1c1c" stroke-width="0.22">0</text>
<line x1="98.71" y1="379.5" x2="98.71" y2="375.0" stroke="#505050" stroke-width="1"/>
<line x1="98.71" y1="311.7" x2="98.71" y2="316.2" stroke="#505050" stroke-width="1"/>
<text transform="translate(98.56,396.00) scale(1.01,1)" font-size="12.2" text-anchor="middle" fill="#1c1c1c" class="sans" stroke="#1c1c1c" stroke-width="0.22">10</text>
<line x1="152.52" y1="379.5" x2="152.52" y2="375.0" stroke="#505050" stroke-width="1"/>
<line x1="152.52" y1="311.7" x2="152.52" y2="316.2" stroke="#505050" stroke-width="1"/>
<text transform="translate(152.37,396.00) scale(1.01,1)" font-size="12.2" text-anchor="middle" fill="#1c1c1c" class="sans" stroke="#1c1c1c" stroke-width="0.22">20</text>
<line x1="206.33" y1="379.5" x2="206.33" y2="375.0" stroke="#505050" stroke-width="1"/>
<line x1="206.33" y1="311.7" x2="206.33" y2="316.2" stroke="#505050" stroke-width="1"/>
<text transform="translate(206.18,396.00) scale(1.01,1)" font-size="12.2" text-anchor="middle" fill="#1c1c1c" class="sans" stroke="#1c1c1c" stroke-width="0.22">30</text>
<line x1="260.14" y1="379.5" x2="260.14" y2="375.0" stroke="#505050" stroke-width="1"/>
<line x1="260.14" y1="311.7" x2="260.14" y2="316.2" stroke="#505050" stroke-width="1"/>
<text transform="translate(259.99,396.00) scale(1.01,1)" font-size="12.2" text-anchor="middle" fill="#1c1c1c" class="sans" stroke="#1c1c1c" stroke-width="0.22">40</text>
<line x1="313.96" y1="379.5" x2="313.96" y2="375.0" stroke="#505050" stroke-width="1"/>
<line x1="313.96" y1="311.7" x2="313.96" y2="316.2" stroke="#505050" stroke-width="1"/>
<text transform="translate(313.81,396.00) scale(1.01,1)" font-size="12.2" text-anchor="middle" fill="#1c1c1c" class="sans" stroke="#1c1c1c" stroke-width="0.22">50</text>
<line x1="367.77" y1="379.5" x2="367.77" y2="375.0" stroke="#505050" stroke-width="1"/>
<line x1="367.77" y1="311.7" x2="367.77" y2="316.2" stroke="#505050" stroke-width="1"/>
<text transform="translate(367.62,396.00) scale(1.01,1)" font-size="12.2" text-anchor="middle" fill="#1c1c1c" class="sans" stroke="#1c1c1c" stroke-width="0.22">60</text>
<line x1="421.58" y1="379.5" x2="421.58" y2="375.0" stroke="#505050" stroke-width="1"/>
<line x1="421.58" y1="311.7" x2="421.58" y2="316.2" stroke="#505050" stroke-width="1"/>
<text transform="translate(421.43,396.00) scale(1.01,1)" font-size="12.2" text-anchor="middle" fill="#1c1c1c" class="sans" stroke="#1c1c1c" stroke-width="0.22">70</text>
<line x1="475.39" y1="379.5" x2="475.39" y2="375.0" stroke="#505050" stroke-width="1"/>
<line x1="475.39" y1="311.7" x2="475.39" y2="316.2" stroke="#505050" stroke-width="1"/>
<text transform="translate(475.24,396.00) scale(1.01,1)" font-size="12.2" text-anchor="middle" fill="#1c1c1c" class="sans" stroke="#1c1c1c" stroke-width="0.22">80</text>
<text transform="translate(529.05,396.00) scale(1.01,1)" font-size="12.2" text-anchor="middle" fill="#1c1c1c" class="sans" stroke="#1c1c1c" stroke-width="0.22">90</text>
<text transform="translate(41.30,384.50) scale(1.01,1)" font-size="12.2" text-anchor="end" fill="#1c1c1c" class="sans" stroke="#1c1c1c" stroke-width="0.22">0</text>
<line x1="44.9" y1="346.45" x2="49.4" y2="346.45" stroke="#505050" stroke-width="1"/>
<line x1="529.2" y1="346.45" x2="524.7" y2="346.45" stroke="#505050" stroke-width="1"/>
<text transform="translate(41.30,351.45) scale(1.01,1)" font-size="12.2" text-anchor="end" fill="#1c1c1c" class="sans" stroke="#1c1c1c" stroke-width="0.22">1</text>
<line x1="44.9" y1="313.40" x2="49.4" y2="313.40" stroke="#505050" stroke-width="1"/>
<line x1="529.2" y1="313.40" x2="524.7" y2="313.40" stroke="#505050" stroke-width="1"/>
<text transform="translate(41.30,318.40) scale(1.01,1)" font-size="12.2" text-anchor="end" fill="#1c1c1c" class="sans" stroke="#1c1c1c" stroke-width="0.22">2</text>
<path d="M45.0,378.0 L46.0,376.4 L47.6,377.2 L49.2,376.1 L50.0,377.0 L50.8,376.9 L52.4,376.0 L54.0,376.8 L55.6,376.1 L56.4,376.9 L57.2,376.9 L58.8,375.9 L59.6,376.7 L60.4,376.6 L61.2,376.7 L62.0,375.8 L62.6,377.7 L63.2,377.6 L64.8,378.2 L66.4,377.8 L68.0,378.4 L68.6,378.5 L69.2,377.3 L70.0,375.9 L71.0,376.8 L71.7,378.2 L72.4,378.4 L74.0,378.8 L76.0,378.7 L78.0,378.3 L79.0,378.7 L80.0,378.2 L81.6,377.3 L82.3,377.5 L83.0,376.6 L83.9,376.9 L84.8,376.7 L86.4,376.2 L87.2,376.7 L88.0,376.4 L88.8,376.8 L89.6,375.6 L91.2,376.6 L92.0,376.8 L92.8,375.8 L94.4,376.6 L96.0,376.0 L96.8,376.5 L97.6,375.8 L99.2,376.6 L100.0,376.5 L100.8,376.0 L102.4,376.4 L104.0,375.8 L105.0,376.8 L106.0,376.5 L106.8,377.5 L107.6,377.2 L109.2,376.6 L110.8,377.3 L112.4,376.9 L114.0,377.2 L115.6,376.2 L116.4,377.8 L117.2,377.8 L118.0,378.4 L118.8,378.5 L120.8,378.4 L122.8,378.4 L124.8,378.6 L125.8,378.6 L126.8,378.7 L127.6,378.5 L128.4,377.5 L129.6,376.1 L130.2,376.1 L130.8,375.3 L131.4,375.4 L132.0,374.8 L133.2,375.5 L133.8,375.7 L134.4,374.4 L135.0,375.9 L135.6,375.8 L136.4,376.3 L137.2,376.1 L138.8,375.4 L140.4,376.6 L142.0,375.9 L143.6,376.3 L144.4,376.3 L145.2,374.9 L146.8,374.7 L148.4,373.9 L149.8,374.8 L150.4,375.3 L152.0,376.7 L152.8,376.6 L153.6,376.1 L155.2,376.7 L156.4,376.2 L157.6,374.7 L158.8,373.6 L159.6,372.8 L160.6,374.2 L162.0,375.1 L163.6,376.0 L165.2,376.9 L166.8,378.1 L168.4,378.5 L170.0,378.7 L172.0,378.2 L174.0,378.4 L176.0,378.1 L177.6,377.6 L178.4,377.7 L179.2,376.8 L180.4,376.3 L181.0,376.1 L181.6,374.7 L183.0,373.8 L183.7,374.5 L184.4,373.7 L186.0,373.0 L187.2,372.1 L187.8,372.4 L188.4,371.4 L189.2,371.0 L190.0,372.0 L191.0,372.4 L192.0,370.6 L193.0,369.5 L194.4,368.3 L195.2,369.0 L196.0,366.9 L196.8,367.6 L197.6,365.7 L199.0,364.3 L200.4,363.7 L202.0,361.7 L202.6,363.4 L203.2,360.5 L204.2,359.6 L205.0,359.0 L205.4,360.6 L205.8,360.0 L206.2,363.4 L206.6,361.8 L207.1,363.2 L207.6,362.9 L208.8,363.7 L210.0,364.6 L211.2,365.1 L211.8,366.7 L212.4,365.8 L213.0,367.1 L213.6,366.5 L214.2,367.3 L214.8,366.7 L216.0,365.6 L217.0,365.0 L217.8,366.6 L219.0,368.2 L220.4,369.7 L221.2,371.4 L222.0,371.1 L223.6,371.9 L225.2,373.6 L226.8,374.3 L228.4,374.9 L229.2,375.5 L230.0,375.4 L231.2,374.5 L231.8,374.8 L232.4,373.7 L233.2,375.0 L234.0,376.3 L235.6,377.8 L237.2,378.1 L238.8,378.6 L240.4,378.2 L241.2,378.3 L242.0,377.1 L243.2,376.6 L244.4,377.6 L245.2,377.7 L246.0,377.6 L247.6,376.6 L249.0,375.5 L249.8,376.3 L250.4,376.5 L251.0,376.4 L251.7,376.6 L252.4,375.3 L254.0,375.0 L255.6,374.1 L257.2,374.8 L258.8,374.2 L260.0,375.3 L261.2,376.4 L261.6,377.1 L262.0,377.0 L263.2,375.7 L264.4,374.8 L265.6,374.4 L267.2,373.6 L268.8,373.7 L270.4,373.5 L272.0,374.7 L272.8,374.7 L273.6,373.6 L275.0,374.2 L276.0,375.2 L277.0,375.8 L278.0,375.3 L278.4,375.3 L278.8,373.3 L279.4,368.8 L280.0,364.4 L280.6,370.1 L281.2,376.9 L282.4,377.5 L283.2,377.5 L284.0,376.8 L285.6,376.5 L286.4,377.1 L287.2,377.0 L288.8,376.3 L290.4,377.0 L291.2,377.7 L292.0,377.7 L294.0,377.6 L296.0,378.0 L297.0,377.9 L298.0,377.6 L300.0,377.5 L302.0,377.5 L302.8,377.4 L303.6,376.8 L304.3,376.7 L305.0,375.7 L305.7,375.7 L306.4,374.6 L307.6,373.2 L308.0,373.3 L308.4,372.1 L308.8,372.3 L309.2,371.7 L310.0,372.9 L310.5,374.3 L311.0,374.2 L312.0,375.3 L312.6,376.1 L313.2,375.8 L314.0,376.6 L314.8,376.4 L316.4,376.0 L317.2,376.7 L318.0,376.8 L319.6,376.3 L320.2,376.1 L320.8,375.3 L322.0,373.8 L323.0,373.0 L324.0,373.6 L325.0,372.9 L326.0,375.2 L326.6,376.6 L327.2,376.5 L328.4,376.8 L329.2,377.5 L330.0,377.1 L332.0,377.8 L334.0,377.8 L336.0,377.7 L338.0,378.0 L339.6,377.2 L340.3,377.2 L341.0,376.1 L342.4,376.8 L344.0,377.2 L345.6,376.5 L347.2,377.0 L348.8,376.1 L349.2,376.2 L349.6,376.0 L350.4,376.2 L351.2,375.7 L352.8,375.0 L354.0,375.1 L355.6,376.1 L357.0,376.4 L358.4,375.1 L360.0,373.7 L361.6,373.3 L362.4,373.4 L363.2,372.3 L364.0,372.6 L364.8,371.5 L365.6,372.2 L366.4,370.8 L367.2,371.7 L368.0,370.4 L369.2,369.9 L370.4,370.3 L371.2,369.6 L371.6,371.0 L372.0,370.6 L372.5,372.6 L373.0,371.8 L373.8,370.4 L374.4,370.0 L375.0,373.1 L375.6,376.9 L376.2,366.3 L376.8,354.0 L377.4,342.0 L378.0,336.1 L378.6,337.9 L379.2,327.9 L379.6,324.5 L380.2,336.0 L380.8,349.9 L381.4,366.1 L382.0,375.9 L382.6,372.7 L383.2,369.8 L383.8,370.3 L384.4,368.2 L385.6,367.0 L386.8,365.7 L388.0,365.9 L388.6,367.7 L389.2,366.6 L390.0,368.3 L390.6,371.8 L391.2,376.4 L391.8,366.3 L392.4,352.1 L393.2,336.0 L394.0,322.7 L394.6,336.2 L395.2,347.1 L395.8,352.8 L396.2,355.1 L396.6,366.0 L397.0,373.8 L397.6,377.7 L398.2,370.0 L398.8,365.8 L400.0,364.5 L401.2,363.9 L402.4,363.4 L403.6,363.2 L404.8,362.9 L405.6,362.2 L406.0,366.2 L406.4,365.2 L407.0,372.1 L407.6,378.3 L408.4,367.9 L409.2,359.1 L410.0,348.0 L410.6,340.1 L411.0,335.7 L411.4,346.2 L412.0,362.8 L412.4,373.8 L412.8,378.7 L413.4,368.2 L414.0,365.8 L414.6,365.9 L415.2,363.9 L416.4,364.5 L417.0,365.3 L417.6,363.7 L418.2,365.6 L418.8,364.6 L420.0,365.1 L421.0,366.2 L421.6,370.9 L422.2,375.1 L422.8,364.2 L423.4,345.7 L424.0,325.8 L424.6,314.2 L425.0,311.8 L425.4,318.2 L425.8,335.8 L426.2,342.4 L426.6,345.9 L427.2,358.6 L428.0,365.5 L429.0,364.7 L430.4,365.2 L432.0,365.9 L433.6,365.9 L434.4,367.3 L435.2,365.9 L436.0,367.7 L436.8,367.0 L437.8,367.9 L438.2,374.2 L438.6,378.1 L439.0,365.8 L439.4,352.1 L439.8,339.7 L440.2,333.9 L440.8,333.7 L441.4,334.5 L441.8,345.9 L442.4,358.8 L443.0,373.9 L443.4,378.9 L444.0,371.9 L444.6,369.4 L446.0,368.0 L447.6,367.5 L449.2,366.2 L450.0,367.5 L451.2,367.9 L452.2,368.8 L452.8,372.8 L453.4,377.3 L454.0,365.9 L454.4,355.9 L455.0,345.9 L455.4,339.9 L455.8,332.8 L456.2,329.6 L456.8,329.4 L457.2,328.4 L457.6,340.2 L458.0,356.0 L458.6,371.8 L459.0,379.0 L459.6,373.2 L460.2,369.1 L460.9,370.0 L461.6,369.4 L463.0,369.9 L464.4,370.4 L465.2,370.9 L466.0,370.6 L466.6,370.6 L467.2,369.7 L468.0,368.8 L468.6,373.1 L469.0,376.2 L469.4,364.1 L469.8,350.1 L470.4,335.4 L470.8,345.8 L471.2,356.2 L471.6,352.4 L472.0,351.2 L472.4,361.9 L472.8,371.9 L473.4,379.1 L474.0,373.1 L474.6,368.4 L476.0,368.3 L478.0,368.2 L480.0,368.0 L482.0,367.8 L483.6,368.4 L484.4,367.3 L485.0,364.1 L485.6,359.0 L486.2,353.1 L486.8,345.2 L487.2,343.0 L487.6,343.6 L488.0,343.8 L488.4,354.1 L488.8,364.3 L489.2,373.9 L489.6,378.6 L490.2,371.8 L490.8,368.0 L491.4,369.0 L492.0,366.5 L493.2,365.8 L494.0,365.8 L494.6,366.5 L495.2,366.2 L496.4,367.0 L497.0,367.9 L497.6,367.4 L498.2,369.2 L498.8,368.9 L499.4,373.1 L500.0,377.2 L500.4,357.8 L500.8,341.9 L501.2,327.8 L501.6,321.2 L502.0,325.9 L502.4,333.0 L503.0,334.6 L503.4,335.0 L503.8,349.9 L504.4,366.2 L504.8,375.2 L505.2,378.7 L505.8,373.0 L506.4,369.9 L507.6,368.6 L508.3,369.7 L509.0,368.2 L510.4,368.6 L512.0,369.5 L513.2,370.5 L513.6,371.4 L514.0,371.2 L514.6,374.9 L515.0,379.0 L515.6,370.1 L516.2,360.1 L516.8,345.8 L517.4,336.8 L517.8,343.9 L518.4,355.9 L518.8,366.2 L519.2,372.0 L520.0,373.5 L520.5,374.3 L521.0,373.8 L522.0,373.3 L523.2,375.2 L524.0,375.3 L524.6,375.9 L525.2,375.0 L526.4,376.4 L527.6,377.3 L528.6,377.5 L529.2,378.6" fill="none" stroke="#0f71be" stroke-width="1.6" stroke-linejoin="round" stroke-linecap="round"/>
<text transform="translate(286.90,413.30) scale(0.99,1)" font-size="14.3" text-anchor="middle" fill="#1c1c1c" class="sans" stroke="#1c1c1c" stroke-width="0.22">Time(s)</text>
<text transform="translate(286.90,306.00) scale(1.065,1)" font-size="13" text-anchor="middle" fill="#111111" class="sans" stroke="#111111" stroke-width="0.22" font-weight="bold">Triceps brachii</text>
<text transform="translate(28.1,374.7) rotate(-90) scale(0.955,1)" font-size="13.7" text-anchor="start" fill="#1c1c1c" stroke="#1c1c1c" stroke-width="0.22" class="sans">Amplitude</text>
<text transform="translate(28.3,312.8) rotate(-90) scale(1.12,1)" font-size="13.2" font-weight="bold" text-anchor="start" fill="#111111" stroke="#111111" stroke-width="0.2" class="serif">(V)</text>
</svg>
</body></html>
